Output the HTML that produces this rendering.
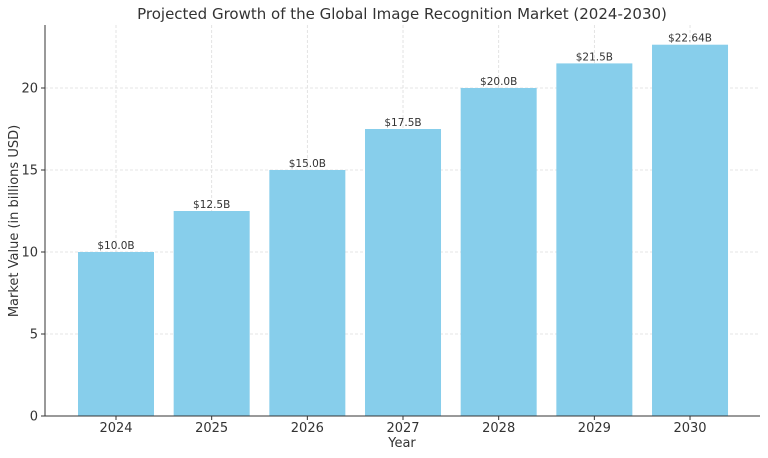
<!DOCTYPE html>
<html><head><meta charset="utf-8"><style>
html,body{margin:0;padding:0;background:#fff;}
svg{display:block;font-family:"DejaVu Sans","Liberation Sans",sans-serif;}
</style></head><body>
<svg id="chart" width="768" height="458"></svg>
<script>
const categories=["2024","2025","2026","2027","2028","2029","2030"];
const values=[10.0,12.5,15.0,17.5,20.0,21.5,22.64];
const valueLabels=["$10.0B","$12.5B","$15.0B","$17.5B","$20.0B","$21.5B","$22.64B"];
const yTicks=[0,5,10,15,20];

const NS="http://www.w3.org/2000/svg";
const svg=document.getElementById('chart');
const L=45,R=760,T=25,B=416;
const y=v=>B-v*16.4;
const step=95.67, x0=116, bw=76;
const x=i=>x0+i*step;
function el(tag,attrs,parent){const e=document.createElementNS(NS,tag);for(const k in attrs)e.setAttribute(k,attrs[k]);(parent||svg).appendChild(e);return e;}

yTicks.forEach(t=>{
  const g=el('line',{x1:L,x2:R,y1:y(t),y2:y(t),stroke:'#dcdcdc','stroke-width':0.8,'stroke-dasharray':'3,2'});
  
  
});
categories.forEach((c,i)=>{
  const g=el('line',{x1:x(i),x2:x(i),y1:T,y2:B,stroke:'#dcdcdc','stroke-width':0.8,'stroke-dasharray':'3,2'});
  
  
});
categories.forEach((c,i)=>{
  const r=el('rect',{x:x(i)-bw/2,y:y(values[i]),width:bw,height:B-y(values[i]),fill:'#87CEEB'});
  
  
  const t=el('text',{x:x(i),y:y(values[i])-3,'text-anchor':'middle','font-size':10.5,fill:'#333'});
  t.textContent=valueLabels[i];
  
  
  const tk=el('line',{x1:x(i),x2:x(i),y1:B,y2:B+4,stroke:'#333'});
  
  
  const tl=el('text',{x:x(i),y:B+16,'text-anchor':'middle','font-size':13,fill:'#333'});
  tl.textContent=c;
  
  
});
yTicks.forEach(t=>{
  const tk=el('line',{x1:L-4,x2:L,y1:y(t),y2:y(t),stroke:'#333'});
  
  
  const tl=el('text',{x:L-7,y:y(t)+4.5,'text-anchor':'end','font-size':13,fill:'#333'});
  tl.textContent=t;
  
  
});
const ax=el('path',{d:`M${L},${T}V${B}H${R}`,fill:'none',stroke:'#333','stroke-width':1});


const title=el('text',{x:402,y:19,'text-anchor':'middle','font-size':15,fill:'#333'});
title.textContent='Projected Growth of the Global Image Recognition Market (2024-2030)';


const xt=el('text',{x:402,y:447,'text-anchor':'middle','font-size':13,fill:'#333'});
xt.textContent='Year';


const yt=el('text',{x:0,y:0,'text-anchor':'middle','font-size':13,fill:'#333',transform:'translate(18,221) rotate(-90)'});
yt.textContent='Market Value (in billions USD)';


</script>
</body></html>
